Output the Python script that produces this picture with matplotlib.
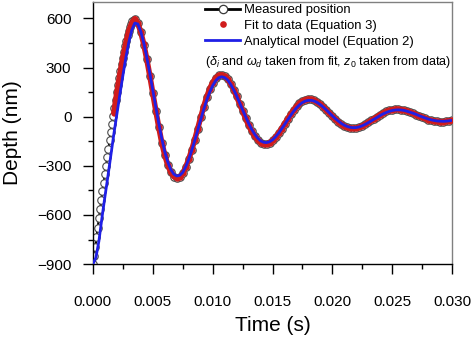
import matplotlib
matplotlib.use('Agg')
import matplotlib.pyplot as plt
from matplotlib.lines import Line2D
from matplotlib.ticker import MultipleLocator, FormatStrFormatter
import numpy as np

plt.rcParams['font.family'] = ['Liberation Sans', 'DejaVu Sans']
plt.rcParams['mathtext.fontset'] = 'custom'
plt.rcParams['mathtext.rm'] = 'Liberation Sans'
plt.rcParams['mathtext.it'] = 'Liberation Sans:italic'

# measured trace: fine sampling on the first rise, coarser after the first peak (s)
rise_step = 0.0001
n_rise = 36
time_step = 0.00025
n_samples = 121
fit_start = 7  # fit curve starts at t = 0.00175 s

measured_rise = [
    -900, -850, -793, -736, -678, -620, -564, -508, -454, -402, -350, -298,
    -246, -195, -145, -95, -45, 5, 55, 103, 150, 195, 239, 281, 321, 360,
    397, 432, 465, 496, 525, 549, 567, 582, 592, 597,
]

measured_decay = [
    570, 515, 441, 350, 250, 143, 37, -65, -159, -235, -295, -340, -365, -375, -368,
    -346, -308, -260, -203, -140, -73, -4, 61, 120, 170, 209, 237, 253, 256, 248,
    229, 200, 165, 124, 79, 34, -10, -52, -88, -119, -142, -158, -166, -166, -158,
    -144, -124, -100, -72, -43, -14, 15, 41, 64, 82, 96, 105, 108, 107, 101,
    90, 76, 60, 41, 22, 3, -15, -31, -45, -57, -65, -69, -71, -69, -64,
    -56, -47, -35, -23, -11, 1, 13, 23, 32, 39, 43, 46, 46, 44, 40,
    35, 28, 21, 13, 5, -3, -10, -17, -22, -26, -29, -30, -30, -28, -25,
    -22,
]

fit_depth = [
    25, 148, 262, 362, 452, 526, 575, 598,
    571, 516, 442, 351, 251, 144, 38, -64, -158, -234, -294, -339, -364, -374, -368,
    -346, -308, -260, -203, -140, -73, -4, 61, 120, 170, 209, 237, 253, 256, 248,
    229, 200, 165, 124, 79, 34, -10, -52, -88, -119, -142, -158, -166, -166, -158,
    -144, -124, -100, -72, -43, -14, 15, 41, 64, 82, 96, 105, 108, 107, 101,
    90, 76, 60, 41, 22, 3, -15, -31, -45, -57, -65, -69, -71, -69, -64,
    -56, -47, -35, -23, -11, 1, 13, 23, 32, 39, 43, 46, 46, 44, 40,
    35, 28, 21, 13, 5, -3, -10, -17, -22, -26, -29, -30, -30, -28, -25,
    -22,
]

model_depth = [
    -900, -860, -760, -620, -490, -365, -235, -105, 15, 135, 250, 360, 455, 530, 572,
    566, 520, 450, 362, 266, 162, 60, -40, -133, -213, -276, -322, -350, -362, -358,
    -340, -305, -260, -206, -146, -82, -18, 44, 101, 150, 190, 220, 238, 244, 239,
    224, 198, 165, 127, 85, 42, 0, -40, -76, -106, -130, -147, -156, -158, -153,
    -141, -123, -101, -75, -48, -20, 7, 32, 55, 73, 87, 96, 100, 100, 95,
    86, 73, 58, 41, 23, 5, -12, -27, -41, -52, -60, -65, -67, -66, -62,
    -55, -46, -36, -25, -14, -3, 8, 18, 26, 33, 38, 41, 42, 41, 38,
    33, 27, 21, 14, 6, -1, -8, -14, -19, -23, -26, -27, -28, -27, -25,
    -22,
]

time = np.arange(n_samples) * time_step
measured_time = np.concatenate([np.arange(n_rise) * rise_step, time[15:]])
measured_depth = measured_rise + measured_decay

fig = plt.figure(figsize=(4.74, 3.48), dpi=100)
ax = fig.add_axes([0.196, 0.241, 0.758, 0.753])

ax.plot(measured_time, measured_depth, color='black', lw=1.6, marker='o', markersize=5.4,
        markerfacecolor='white', markeredgecolor='#4a4a4a', markeredgewidth=0.8, zorder=2)
ax.plot(time[fit_start:], fit_depth, color='#d01c1c', lw=4.0, solid_capstyle='round',
        marker='o', markersize=4.6, markeredgewidth=0, zorder=3)
ax.plot(time, model_depth, color='#1f1fe6', lw=2.0, zorder=4)

ax.set_xlim(0, 0.030)
ax.set_ylim(-900, 700)
ax.xaxis.set_major_locator(MultipleLocator(0.005))
ax.xaxis.set_minor_locator(MultipleLocator(0.0025))
ax.set_yticks([-900, -600, -300, 0, 300, 600])
ax.yaxis.set_minor_locator(MultipleLocator(150))
ax.xaxis.set_major_formatter(FormatStrFormatter('%.3f'))

ax.tick_params(which='major', direction='out', length=7.5, width=1.0, labelsize=11)
ax.tick_params(axis='x', which='major', pad=15)
ax.tick_params(axis='y', which='major', pad=8)
ax.tick_params(which='minor', direction='out', length=3.8, width=1.0)
for side in ['left', 'bottom']:
    ax.spines[side].set_linewidth(1.0)
for side in ['top', 'right']:
    ax.spines[side].set_color('#808080')
    ax.spines[side].set_linewidth(1.0)

ax.set_xlabel('Time (s)', fontsize=15, labelpad=5)
ax.set_ylabel('Depth (nm)', fontsize=15, labelpad=11)

handles = [
    Line2D([], [], color='black', lw=2.0, marker='o', markersize=6.0,
           markerfacecolor='white', markeredgecolor='#3a3a3a', markeredgewidth=0.9),
    Line2D([], [], ls='none', marker='o', markersize=4.8, color='#d01c1c', markeredgewidth=0),
    Line2D([], [], color='#1f1fe6', lw=2.0),
]
labels = ['Measured position', 'Fit to data (Equation 3)', 'Analytical model (Equation 2)']
ax.legend(handles, labels, loc='upper left', bbox_to_anchor=(205 / 474, 1 - 4 / 348),
          bbox_transform=fig.transFigure, frameon=False, fontsize=9.4,
          numpoints=1, handlelength=2.7, handletextpad=0.3,
          labelspacing=0.28, borderpad=0, borderaxespad=0)
fig.text(205 / 474, 1 - 62 / 348,
         r'($\delta_i$ and $\omega_d$ taken from fit, $z_0$ taken from data)',
         fontsize=9, va='center', ha='left')

fig.savefig('out.png', dpi=100)
